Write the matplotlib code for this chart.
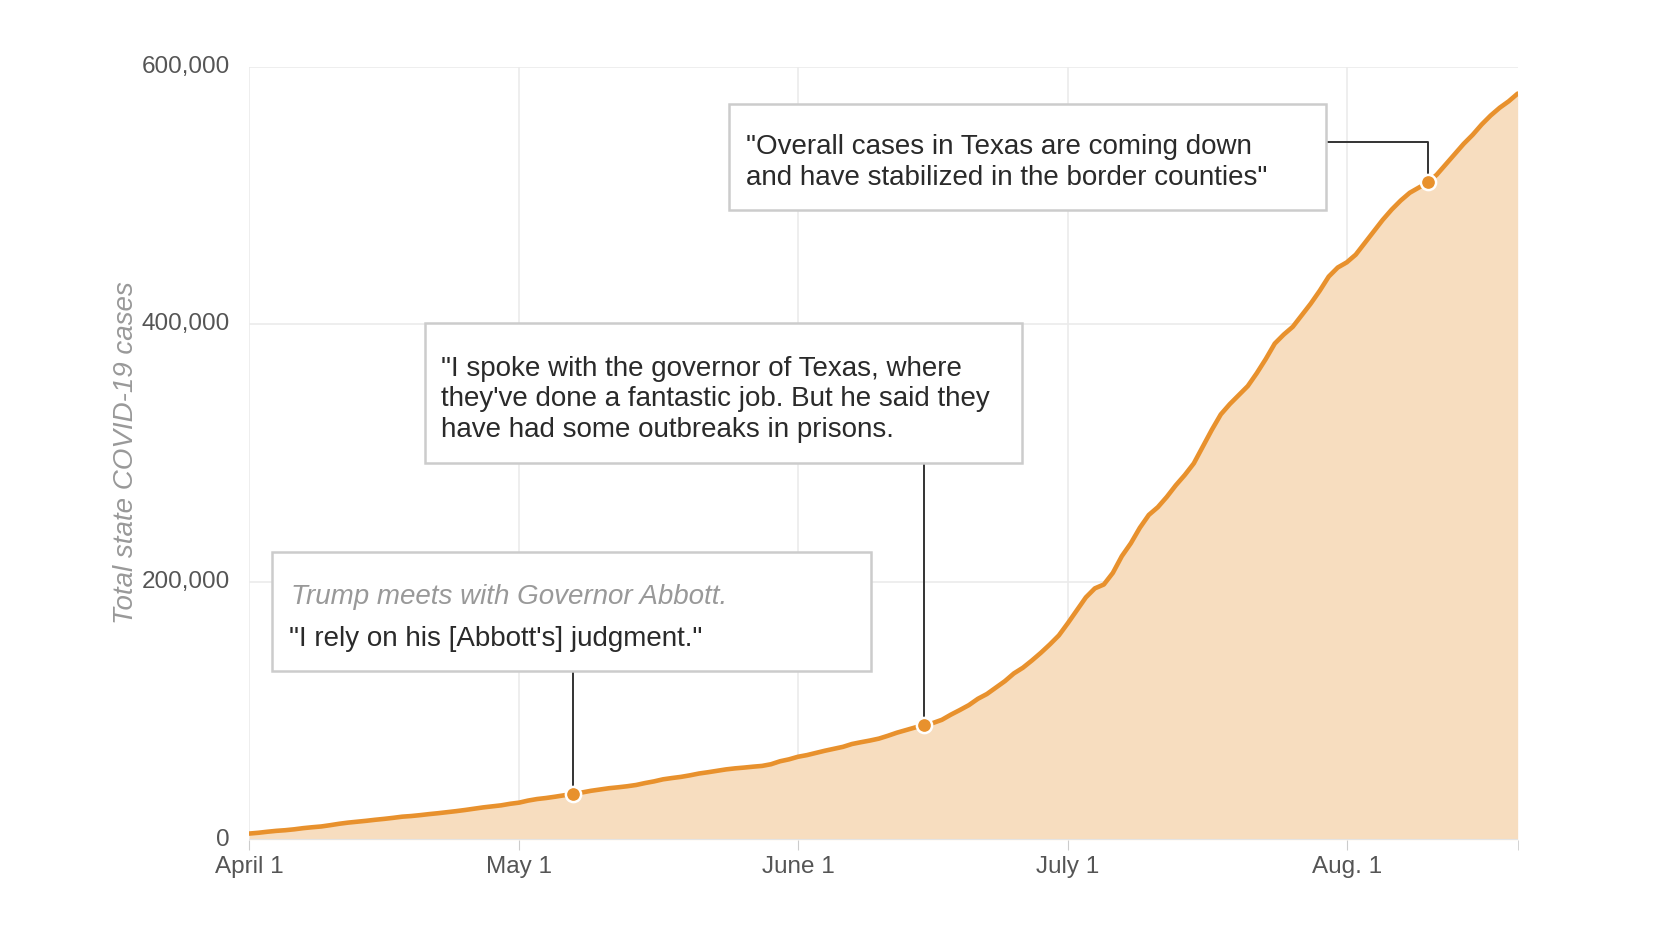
import numpy as np
import pandas as pd
import matplotlib
matplotlib.use("Agg")
import matplotlib.pyplot as plt
import matplotlib.dates as mdates
from matplotlib.patches import Rectangle
from matplotlib.ticker import FuncFormatter

plt.rcParams['font.family'] = ['Liberation Sans', 'DejaVu Sans']

april = [4.7, 5.3, 6.1, 6.8, 7.3, 8.0, 8.9, 9.6, 10.2, 11.2, 12.3, 13.2, 13.9, 14.6, 15.4,
         16.1, 16.9, 17.8, 18.3, 19.0, 19.8, 20.5, 21.3, 22.1, 23.0, 24.0, 25.0, 25.8, 26.6, 27.8]
may = [28.7, 30.3, 31.5, 32.3, 33.3, 34.4, 35.5, 36.6, 37.9, 38.9, 39.9, 40.6, 41.4, 42.4, 43.9,
       45.2, 46.8, 47.8, 48.7, 49.9, 51.3, 52.3, 53.4, 54.5, 55.3, 55.9, 56.6, 57.2, 58.5, 60.8, 62.3]
june = [64.3, 65.6, 67.3, 69.0, 70.5, 72.0, 74.2, 75.6, 76.9, 78.4, 80.6, 83.0, 85.0, 87.0, 89.1,
        90.5, 93.0, 97.0, 100.6, 104.4, 109.3, 113.0, 118.0, 123.0, 129.0, 133.4, 139.0, 145.0, 151.5, 158.5]
july = [168, 178, 188, 195, 198, 207, 220, 230, 242, 252, 258, 266, 275, 283, 292, 305, 318, 330,
        338, 345, 352, 362, 373, 385, 392, 398, 407, 416, 426, 437, 444]
august = [448, 454, 463, 472, 481, 489, 496, 502, 506, 510, 516, 524, 532, 540, 547, 555, 562, 568, 573, 579]

cases = np.array(april + may + june + july + august) * 1000
dates = pd.date_range("2020-04-01", periods=len(cases), freq="D")

tick_dates = pd.to_datetime(["2020-04-01", "2020-05-01", "2020-06-01", "2020-07-01", "2020-08-01"])
tick_labels = ["April 1", "May 1", "June 1", "July 1", "Aug. 1"]
y_ticks = [0, 200000, 400000, 600000]

# annotated days and their text
note_dates = pd.to_datetime(["2020-05-07", "2020-06-15", "2020-08-10"])
note_head = "Trump meets with Governor Abbott."
note_texts = [
    "\"I rely on his [Abbott's] judgment.\"",
    "\"I spoke with the governor of Texas, where\nthey've done a fantastic job. But he said they\nhave had some outbreaks in prisons.",
    "\"Overall cases in Texas are coming down\nand have stabilized in the border counties\"",
]

line_col = "#e8912d"
fill_col = "#f7ddbf"
grid_col = "#ebebeb"

W, H = 1656, 931
S = W / 1568  # layout measured on a 1568-wide view
fig = plt.figure(figsize=(W / 100, H / 100), dpi=100)
L, R, T, B = 236, 1437, 63, 795
ax = fig.add_axes([L * S / W, 1 - B * S / H, (R - L) * S / W, (B - T) * S / H])

ax.fill_between(dates, 0, cases, color=fill_col, lw=0, zorder=1)
ax.plot(dates, cases, color=line_col, lw=3.3, zorder=3, solid_capstyle="round")

ax.set_xlim(dates[0], dates[-1])
ax.set_ylim(0, 600000)
ax.set_xticks(tick_dates)
ax.set_xticklabels(tick_labels)
ax.set_xticks([dates[-1]], minor=True)
ax.set_yticks(y_ticks)
ax.yaxis.set_major_formatter(FuncFormatter(lambda v, p: f"{int(v):,}"))
ax.grid(True, color=grid_col, lw=1.2, zorder=0)
ax.set_axisbelow(True)
for s in ax.spines.values():
    s.set_visible(False)
ax.axhline(0, color="#e4e4e4", lw=1.5, zorder=2)
ax.tick_params(axis="x", which="both", length=7, color="#cccccc", labelcolor="#555555", labelsize=17.5, pad=5)
ax.tick_params(axis="y", length=0, labelcolor="#555555", labelsize=17.5, pad=14)
for lab in ax.get_yticklabels():
    lab.set_verticalalignment("center")

ax.set_ylabel("Total state COVID-19 cases", fontsize=20, style="italic", color="#999999", labelpad=2)


def ax_frac(px, py):
    return ((px - L) / (R - L), (B - py) / (B - T))


def to_data(px, py):
    return ax.transData.inverted().transform(ax.transAxes.transform(ax_frac(px, py)))


# boxes in view pixels: (left, top, right, bottom)
boxes = [(258, 523, 825, 635), (402, 306, 968, 438), (690, 98, 1256, 199)]
for (x0, y0, x1, y1) in boxes:
    fx0, fy1 = ax_frac(x0, y1)
    fx1, fy0 = ax_frac(x1, y0)
    ax.add_patch(Rectangle((fx0, fy1), fx1 - fx0, fy0 - fy1, transform=ax.transAxes,
                           facecolor="white", edgecolor="#cccccc", lw=1.8, zorder=5, clip_on=False))

fs = 20
ax.text(*ax_frac(276, 565), note_head, transform=ax.transAxes, fontsize=fs, style="italic",
        color="#999999", va="center", ha="left", zorder=6)
ax.text(*ax_frac(274, 605), note_texts[0], transform=ax.transAxes, fontsize=fs,
        color="#2a2a2a", va="center", ha="left", zorder=6)
ax.text(*ax_frac(418, 378), note_texts[1], transform=ax.transAxes, fontsize=fs,
        color="#2a2a2a", va="center", ha="left", linespacing=1.22, zorder=6)
ax.text(*ax_frac(706, 154), note_texts[2], transform=ax.transAxes, fontsize=fs,
        color="#2a2a2a", va="center", ha="left", linespacing=1.22, zorder=6)

note_vals = [cases[dates.get_loc(d)] for d in note_dates]
# connectors
for i, bottom in [(0, 635), (1, 438)]:
    top_val = to_data(0, bottom)[1]
    ax.plot([note_dates[i], note_dates[i]], [note_vals[i], top_val], color="#333333", lw=1.4, zorder=4)
xe, ye = to_data(1256, 134)
ax.plot([xe, mdates.date2num(note_dates[2]), mdates.date2num(note_dates[2])],
        [ye, ye, note_vals[2]], color="#333333", lw=1.4, zorder=4)

ax.scatter(note_dates, note_vals, s=120, color=line_col, edgecolor="white", linewidth=1.8, zorder=7)

fig.savefig("out.png", dpi=100)
